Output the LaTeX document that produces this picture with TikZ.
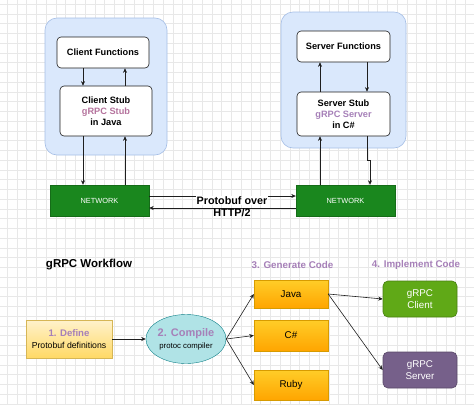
\documentclass[tikz,border=0pt]{standalone}
\usepackage{fontspec}
\setmainfont{Liberation Sans}
\usepackage{tikz}
\usetikzlibrary{arrows.meta,positioning,shapes.geometric,calc}
\definecolor{ink}{RGB}{30,30,30}
\definecolor{gridgray}{RGB}{232,232,232}
\definecolor{panelfill}{RGB}{218,232,252}
\definecolor{panelline}{RGB}{165,190,230}
\definecolor{netgreen}{RGB}{26,135,30}
\definecolor{stubpink}{RGB}{181,115,157}
\definecolor{steppurple}{RGB}{166,128,184}
\definecolor{defline}{RGB}{214,182,86}
\definecolor{deftop}{RGB}{255,242,204}
\definecolor{defbot}{RGB}{255,217,102}
\definecolor{compfill}{RGB}{176,227,230}
\definecolor{compline}{RGB}{14,128,136}
\definecolor{langtop}{RGB}{255,205,40}
\definecolor{langbot}{RGB}{255,165,0}
\definecolor{langline}{RGB}{215,155,0}
\definecolor{cligreen}{RGB}{96,169,23}
\definecolor{srvpurple}{RGB}{118,96,138}
\tikzset{
  conn/.style={draw=ink,line width=0.6pt,-{Stealth[length=4.5pt,width=4pt]}},
  panel/.style={draw=panelline,fill=panelfill,rounded corners=12pt,
    line width=0.6pt,inner sep=0pt},
  funcbox/.style={draw=ink,fill=white,rounded corners=4pt,line width=0.6pt,
    align=center,inner sep=0pt,font=\bfseries\fontsize{9.2}{11}\selectfont},
  netbox/.style={fill=netgreen,draw=netgreen!80!black,text=white,inner sep=0pt,
    minimum width=99pt,minimum height=31pt,font=\fontsize{7.4}{9}\selectfont},
  steplabel/.style={text=steppurple,font=\bfseries\fontsize{9.8}{12}\selectfont},
  langbox/.style={draw=langline,top color=langtop,bottom color=langbot,
    inner sep=0pt,minimum width=74pt,font=\fontsize{9.8}{12}\selectfont},
  implbox/.style={rounded corners=5pt,text=white,inner sep=0pt,align=center,
    minimum width=74pt,minimum height=36pt,line width=0.6pt,
    font=\fontsize{9.8}{11.5}\selectfont}
}

\begin{document}
\begin{tikzpicture}[x=1pt,y=-1pt]
    \fill[white] (0,0) rectangle (474,405);
    \useasboundingbox (0,0) rectangle (474,405);
    \foreach \gx in {7,16.75,...,474}
      \draw[gridgray,line width=0.4pt] (\gx,0) -- (\gx,405);
    \foreach \gy in {4,13.75,...,405}
      \draw[gridgray,line width=0.4pt] (0,\gy) -- (474,\gy);

    \node[panel,minimum width=122pt,minimum height=137pt] (cpanel) at (106,86.5) {};
    \node[funcbox,minimum width=92pt,minimum height=31pt] (cfunc) at (103,52.5)
      {Client Functions};
    \node[funcbox,minimum width=92pt,minimum height=50pt] (cstub) at (106,111)
      {Client Stub\\\textcolor{stubpink}{gRPC Stub}\\in Java};
    \node[netbox] (lnet) at (99.5,200.5) {NETWORK};

    \node[panel,minimum width=125pt,minimum height=136pt] (spanel) at (343.5,80) {};
    \node[funcbox,minimum width=93pt,minimum height=31pt] (sfunc) at (343.5,46.5)
      {Server Functions};
    \node[funcbox,minimum width=93pt,minimum height=44pt] (sstub) at (343.5,114)
      {Server Stub\\\textcolor{steppurple}{gRPC Server}\\in C\#};
    \node[netbox] (rnet) at (345.5,200.5) {NETWORK};

    \coordinate (cl) at (83,0);
    \coordinate (cr) at (125,0);
    \coordinate (sl) at (320,0);
    \coordinate (sr) at (367,0);
    \coordinate (sj) at (370,160);
    \coordinate (ptop) at (0,196);
    \coordinate (pbot) at (0,208);

    \draw[conn] (cfunc.south -| cl) -- (cstub.north -| cl);
    \draw[conn] (cstub.north -| cr) -- (cfunc.south -| cr);
    \draw[conn] (cstub.south -| cl) -- (lnet.north -| cl);
    \draw[conn] (lnet.north -| cr) -- (cstub.south -| cr);
    \draw[conn] (sstub.north -| sl) -- (sfunc.south -| sl);
    \draw[conn] (sfunc.south -| sr) -- (sstub.north -| sr);
    \draw[conn] (rnet.north -| sl) -- (sstub.south -| sl);
    \draw[conn] (sstub.south -| sr) |- (sj) -- (rnet.north -| sj);
    \draw[conn] (lnet.east |- ptop) -- (rnet.west |- ptop);
    \draw[conn] (rnet.west |- pbot) -- (lnet.east |- pbot);

    \node[align=center,inner sep=0pt,font=\bfseries\fontsize{10.8}{12}\selectfont]
      (proto) at (232,206)
      {\setlength{\fboxsep}{0.5pt}\colorbox{white}{Protobuf over}\\HTTP/2};

    \node[font=\bfseries\fontsize{11.5}{14}\selectfont] (title) at (89,265)
      {gRPC Workflow};
    \node[steplabel] (gen) at (292.5,265) {3. Generate Code};
    \node[steplabel] (impl) at (416,265) {4. Implement Code};

    \node[draw=defline,top color=deftop,bottom color=defbot,inner sep=0pt,
      minimum width=86pt,minimum height=38pt,align=center] (define) at (69,339)
      {{\bfseries\fontsize{9.6}{12}\selectfont\color{steppurple}1. Define}\\
       {\fontsize{8.7}{11}\selectfont Protobuf definitions}};
    \node[ellipse,draw=compline,fill=compfill,inner sep=0pt,
      minimum width=73pt,minimum height=49pt,align=center] (comp) at (186,339)
      {{\bfseries\fontsize{11}{12}\selectfont\color{steppurple}2. Compile}\\
       {\fontsize{7.8}{11}\selectfont protoc compiler}};

    \node[langbox,minimum height=28pt] (java) at (291,294) {Java};
    \node[langbox,minimum height=31pt] (csharp) at (291,335.5) {C\#};
    \node[langbox,minimum height=30pt] (ruby) at (291,385) {Ruby};

    \node[implbox,fill=cligreen,draw=cligreen!75!black] (client) at (420,299)
      {gRPC\\Client};
    \node[implbox,fill=srvpurple,draw=srvpurple!75!black] (server) at (420,370)
      {gRPC\\Server};

    \draw[conn] (define.east) -- (comp.west);
    \draw[conn] (comp.east) -- (java.west);
    \draw[conn] (comp.east) -- (csharp.west);
    \draw[conn] (comp.east) -- (ruby.west);
    \draw[conn] (java.east) -- (client.west);
    \draw[conn] (java.east) -- (server.west);
  \end{tikzpicture}
\end{document}
